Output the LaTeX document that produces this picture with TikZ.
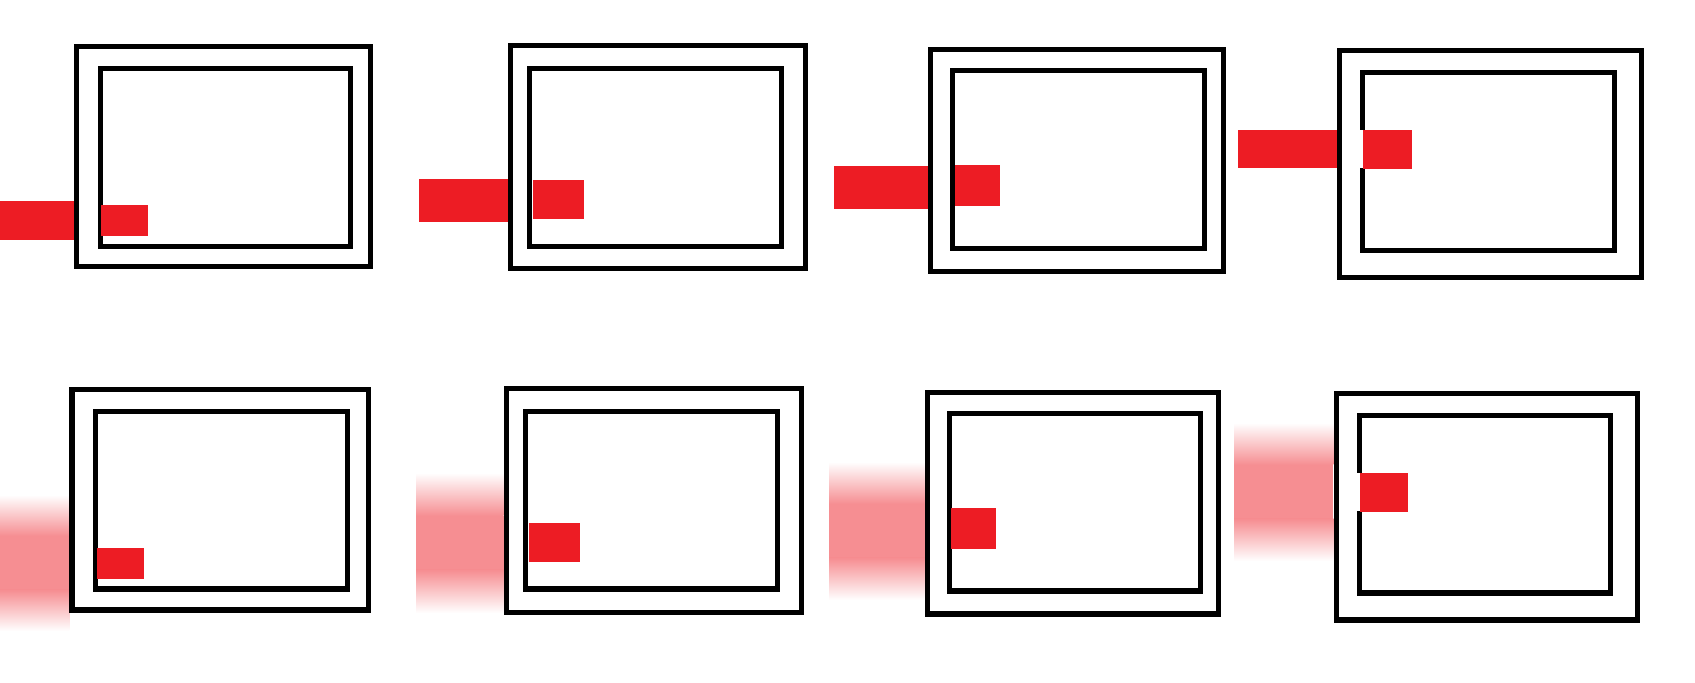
\documentclass[tikz,border=0pt]{standalone}
\definecolor{beamred}{HTML}{ED1C24}
\colorlet{beampale}{beamred!50}
\begin{document}
\begin{tikzpicture}[x=0.01cm, y=-0.01cm,
    outerbox/.style = {draw, line width=0.05cm},
    innerbox/.style = {draw, line width=0.05cm},
    beam/.style = {fill=beamred},
    spot/.style = {fill=beamred}]
    \useasboundingbox (0,0) rectangle (1695,683);
    % top row: sharp beam
    \fill[beam] (0,201) rectangle (74,239.7);
    \fill[beam] (419,179) rectangle (508,221.7);
    \fill[beam] (833.7,166) rectangle (928,209);
    \fill[beam] (1238,130) rectangle (1337,167.7);
    \draw[outerbox] (76.8,46.8) rectangle (370.5,266.8);
    \draw[innerbox] (100.1,68.5) rectangle (350.9,246.2);
    \draw[outerbox] (510,46) rectangle (805,269);
    \draw[innerbox] (529.5,68.5) rectangle (781.5,246.2);
    \draw[outerbox] (930.5,49.5) rectangle (1223.5,271.5);
    \draw[innerbox] (952.7,70.8) rectangle (1204.5,248.2);
    \draw[outerbox] (1339.7,50.5) rectangle (1641.5,277.2);
    \draw[innerbox] (1362.5,130) -- (1362.5,72.5) -- (1614.5,72.5) -- (1614.5,250.2) -- (1362.5,250.2) -- (1362.5,168);
    \fill[spot] (100.8,205) rectangle (148,235.7);
    \fill[spot] (533,180) rectangle (584,219);
    \fill[spot] (954.5,165) rectangle (1000,206);
    \fill[spot] (1362.7,130) rectangle (1412,169);
    % bottom row: blurred beam
    \shade[top color=white, bottom color=beampale] (0,495) rectangle (69.4,536);
    \fill[beampale] (0,536) rectangle (69.4,590);
    \shade[top color=beampale, bottom color=white] (0,590) rectangle (69.4,631);
    \shade[top color=white, bottom color=beampale] (416,473) rectangle (503.6,516);
    \fill[beampale] (416,516) rectangle (503.6,570);
    \shade[top color=beampale, bottom color=white] (416,570) rectangle (503.6,613);
    \shade[top color=white, bottom color=beampale] (829,462) rectangle (925,504);
    \fill[beampale] (829,504) rectangle (925,558);
    \shade[top color=beampale, bottom color=white] (829,558) rectangle (925,600);
    \shade[top color=white, bottom color=beampale] (1234,423) rectangle (1333.4,465);
    \fill[beampale] (1234,465) rectangle (1333.4,519);
    \shade[top color=beampale, bottom color=white] (1234,519) rectangle (1333.4,561);
    \draw[outerbox] (72,389.5) rectangle (368,610);
    \draw[innerbox] (95.7,411.5) rectangle (347.7,589);
    \draw[outerbox] (506,388.5) rectangle (801,612.5);
    \draw[innerbox] (525.5,411.5) rectangle (777.5,589);
    \draw[outerbox] (927,393) rectangle (1218.7,614);
    \draw[innerbox] (949,413.5) rectangle (1200.3,591);
    \draw[outerbox] (1336,393.5) rectangle (1637,620);
    \draw[innerbox] (1359,472.7) -- (1359,415.5) -- (1610,415.5) -- (1610,593) -- (1359,593) -- (1359,511.3);
    \fill[spot] (97,548) rectangle (144,579);
    \fill[spot] (529,523) rectangle (580,562);
    \fill[spot] (950.7,508) rectangle (996,549);
    \fill[spot] (1360,473) rectangle (1408,512);
\end{tikzpicture}
\end{document}
